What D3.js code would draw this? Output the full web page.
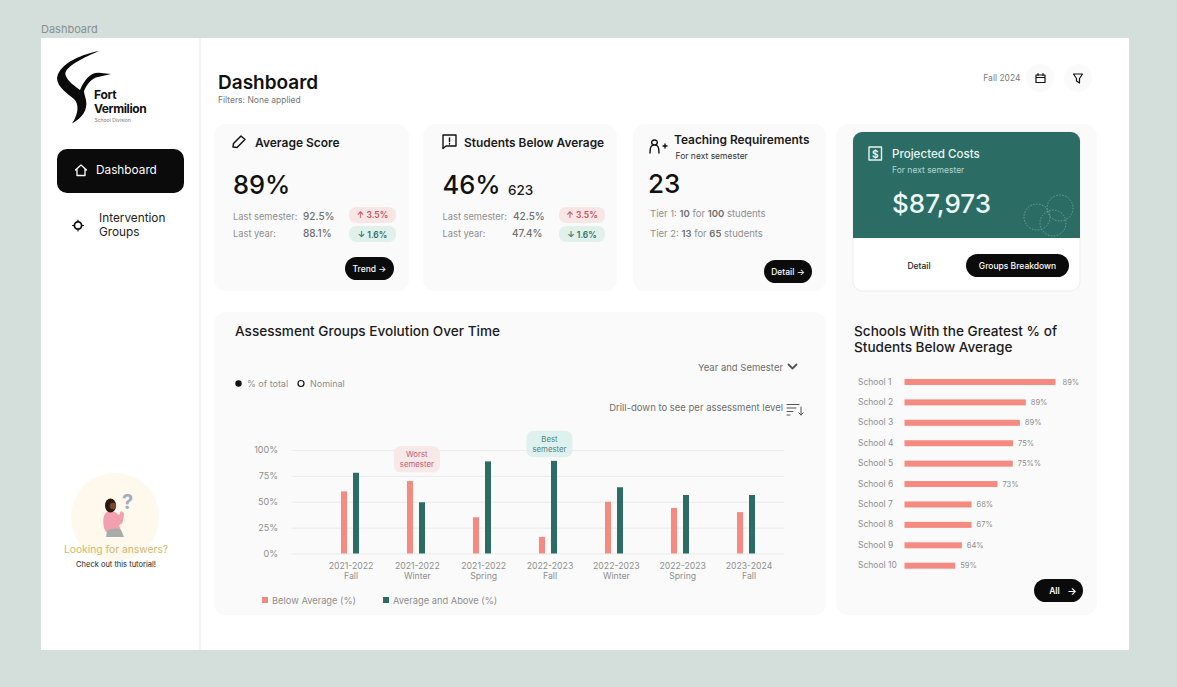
<!DOCTYPE html>
<html lang="en">
<head>
<meta charset="UTF-8">
<title>Dashboard</title>
<script src="https://d3js.org/d3.v7.min.js"></script>
<style>
    html, body { margin: 0; padding: 0; background: #d4dedb; overflow: hidden; }
    svg { display: block; }
    text { font-family: Inter, "Noto Sans", sans-serif; }
</style>
</head>
<body>
<svg id="plot" width="1177" height="687"></svg>
<script>
    // chart data
    const semesterYears = ["2021-2022", "2021-2022", "2021-2022", "2022-2023", "2022-2023", "2022-2023", "2023-2024"];
    const semesterTerms = ["Fall", "Winter", "Spring", "Fall", "Winter", "Spring", "Fall"];
    const belowAverage = [60, 70, 35, 16, 50, 44, 40];
    const averageAndAbove = [78, 49.5, 89, 89.5, 64, 56.5, 56.5];
    const percentTicks = [0, 25, 50, 75, 100];

    const schools = ["School 1", "School 2", "School 3", "School 4", "School 5", "School 6", "School 7", "School 8", "School 9", "School 10"];
    const schoolBars = [89, 71.5, 68, 64, 63.8, 54.8, 39.5, 39.5, 33.8, 29.9];
    const schoolLabels = ["89%", "89%", "89%", "75%", "75%%", "73%", "68%", "67%", "64%", "59%"];

    const INK = "#111111", GREY = "#8f8f8f", MID = "#6f6f6f", PINK = "#f58a80", TEAL = "#2b6d64", CARD = "#fafafa";

    const svg = d3.select("#plot");

    var label = function (x, y, str, size, color, weight, anchor) {
        return svg.append("text")
            .attr("x", x).attr("y", y)
            .attr("font-size", size)
            .attr("fill", color || INK)
            .attr("font-weight", weight || 400)
            .attr("text-anchor", anchor || "start")
            .text(str);
    };

    var box = function (x0, y0, x1, y1, r, fill) {
        return svg.append("rect")
            .attr("x", x0).attr("y", y0)
            .attr("width", x1 - x0).attr("height", y1 - y0)
            .attr("rx", r)
            .attr("fill", fill);
    };

    var icon = function (d, color, width) {
        return svg.append("path")
            .attr("d", d)
            .attr("fill", "none")
            .attr("stroke", color || INK)
            .attr("stroke-width", width || 1.5)
            .attr("stroke-linecap", "round")
            .attr("stroke-linejoin", "round");
    };

    var button = function (x0, y0, x1, y1, str, size) {
        box(x0, y0, x1, y1, (y1 - y0) / 2, "#0b0b0b");
        label((x0 + x1) / 2, (y0 + y1) / 2 + 3, str, size || 8.5, "#ffffff", 500, "middle");
    };

    // page frame
    label(41, 33, "Dashboard", 11, "#87918f");
    box(41, 38, 1129, 650, 0, "#ffffff");
    svg.append("rect").attr("x", 199).attr("y", 38).attr("width", 2).attr("height", 612).attr("fill", "#f2f4f3");

    // sidebar logo
    svg.append("path")
        .attr("d", "M99 51 C84 54 60 62 57 78 C57 87 68 94 74 99 C79 104 79 113 72 123.5 C82 118 88 110 86 100 C85 96 84 93 84 91 C87 84 92 78 98 77 L111 74 L101 73 C92 71 85 78 80 90 C75 86 68 82 65.5 75 C64 68 78 60 99 51 Z")
        .attr("fill", "#0a0a0a");
    label(94, 99, "Fort", 12, INK, 700).attr("letter-spacing", -0.3);
    label(94, 112.5, "Vermilion", 12, INK, 700).attr("letter-spacing", -0.4);
    label(94.5, 121.5, "School Division", 5, "#777777");

    // sidebar nav
    box(57, 149, 184, 193, 10, "#0b0b0b");
    icon("M75.5 170 L81 165 L86.5 170 M77 169 V175.5 H85 V169", "#ffffff", 1.3);
    label(96, 174, "Dashboard", 11.8, "#ffffff");
    svg.append("circle").attr("cx", 78).attr("cy", 225.5).attr("r", 3.6).attr("fill", "none").attr("stroke", INK).attr("stroke-width", 1.8);
    icon("M78 220 V221.5 M78 229.5 V231 M72.5 225.5 H74 M82 225.5 H83.5", INK, 1.2);
    label(99, 222, "Intervention", 11.8, "#222222");
    label(99, 236, "Groups", 11.8, "#222222");

    // sidebar tutorial
    svg.append("circle").attr("cx", 115).attr("cy", 517).attr("r", 44).attr("fill", "#fef9ec");
    svg.append("path").attr("d", "M104 528 C102 518 104 512 110 510.5 C113 510 116 513 119 515 L121 511 L124 513 L123 521 C122 524 120 525 119 525 L121 531 L106 532 Z").attr("fill", "#f29fb0");
    svg.append("path").attr("d", "M107 531 C112 528 118 528 121 530 L124 537 L106 537 Z").attr("fill", "#a8aca9");
    svg.append("ellipse").attr("cx", 110.5).attr("cy", 505.5).attr("rx", 5.5).attr("ry", 7).attr("fill", "#2e1710");
    svg.append("circle").attr("cx", 113).attr("cy", 506).attr("r", 3.2).attr("fill", "#7a4630");
    label(122, 509, "?", 20, "#a4adc0", 700);
    label(116, 553, "Looking for answers?", 10.3, "#d2b672", 400, "middle");
    label(116, 567, "Check out this tutorial!", 7.5, "#222222", 400, "middle");

    // header
    label(218, 89, "Dashboard", 19, INK, 600);
    label(218, 102.5, "Filters: None applied", 8.5, "#777777");
    label(1020.5, 81, "Fall 2024", 8.5, "#7c7c7c", 400, "end");
    svg.append("circle").attr("cx", 1040).attr("cy", 78).attr("r", 14).attr("fill", CARD);
    svg.append("circle").attr("cx", 1078).attr("cy", 78).attr("r", 14).attr("fill", CARD);
    icon("M1036 75 H1045 V82.5 H1036 Z M1036 77.5 H1045 M1038 73.5 V75.5 M1043 73.5 V75.5", INK, 1.2);
    icon("M1073.5 74 H1082.5 L1079.5 78.5 V83 L1076.5 81 V78.5 Z", INK, 1.2);

    // kpi card 1
    box(214, 124, 409, 291, 12, CARD);
    icon("M233 147 L233.5 143.5 L241 136 L245 139.5 L237 147.5 Z", INK, 1.5);
    label(255, 147, "Average Score", 12, "#1a1a1a", 600);
    label(233, 194, "89%", 25.5, INK, 500);
    label(233, 220, "Last semester:", 9.3, GREY);
    label(303, 220, "92.5%", 10, MID, 500);
    label(233, 237, "Last year:", 9.3, GREY);
    label(303, 237, "88.1%", 10, MID, 500);
    box(349, 207, 396, 223, 7, "#f8e6e5");
    label(372.5, 218, "↑ 3.5%", 8.5, "#c4505f", 600, "middle");
    box(349, 226, 396, 242, 7, "#e0f1ec");
    label(372.5, 238, "↓ 1.6%", 8.5, "#2f6f65", 600, "middle");
    button(345, 257, 394, 280, "Trend →");

    // kpi card 2
    box(423, 124, 617, 291, 12, CARD);
    icon("M443 135 H456 V146 H446 L443 148.5 Z M449.5 138 V141.5 M449.5 143.5 V144", INK, 1.4);
    label(464, 147, "Students Below Average", 11.9, "#1a1a1a", 600);
    label(442.5, 194, "46%", 25.5, INK, 500);
    label(508, 194.5, "623", 13.5, "#1a1a1a", 500);
    label(442.5, 220, "Last semester:", 9.3, GREY);
    label(513, 220, "42.5%", 10, MID, 500);
    label(442.5, 237, "Last year:", 9.3, GREY);
    label(512, 237, "47.4%", 10, MID, 500);
    box(559, 207, 605, 223, 7, "#f8e6e5");
    label(582, 218, "↑ 3.5%", 8.5, "#c4505f", 600, "middle");
    box(559, 226, 605, 242, 7, "#e0f1ec");
    label(582, 238, "↓ 1.6%", 8.5, "#2f6f65", 600, "middle");

    // kpi card 3
    box(633, 124, 826, 291, 12, CARD);
    icon("M650 153 C650 147 651 145 654.5 145 C658 145 659 147 659 153 M654.5 145 C651 145 650.5 140 654.5 140 C658.5 140 658 145 654.5 145 M663 146 H667 M665 144 V148", INK, 1.4);
    label(674, 144, "Teaching Requirements", 11.9, "#1a1a1a", 600);
    label(675.5, 159, "For next semester", 8.5, "#333333");
    label(648, 193, "23", 26, INK, 500);
    var tier = function (y, parts) {
        var t = svg.append("text").attr("x", 650).attr("y", y).attr("font-size", 9.5).attr("fill", GREY);
        parts.forEach(function (p) {
            t.append("tspan").attr("font-weight", p[1] ? 600 : 400).attr("fill", p[1] ? MID : GREY).text(p[0]);
        });
    };
    tier(217, [["Tier 1: ", 0], ["10", 1], [" for ", 0], ["100", 1], [" students", 0]]);
    tier(236.5, [["Tier 2: ", 0], ["13", 1], [" for ", 0], ["65", 1], [" students", 0]]);
    button(764, 260, 812, 283, "Detail →");

    // right column panel
    box(836, 124, 1097, 615, 12, CARD);

    // projected costs card
    box(853, 132, 1080, 291, 9, "#ffffff").attr("stroke", "#ececec");
    svg.append("path").attr("d", "M853 238 V141 A9 9 0 0 1 862 132 H1071 A9 9 0 0 1 1080 141 V238 Z").attr("fill", TEAL);
    icon("M869 147 H881.5 V160 H869 Z", "#e6f2ef", 1.4);
    label(875.2, 157.5, "$", 10, "#e6f2ef", 700, "middle");
    label(892, 158, "Projected Costs", 11.6, "#e9f4f1", 500);
    label(892, 173, "For next semester", 8.5, "#b6d2cc");
    label(892, 213, "$87,973", 26, "#eef7f5", 500);
    [[1037, 217], [1060, 208], [1053, 223]].forEach(function (c) {
        svg.append("circle").attr("cx", c[0]).attr("cy", c[1]).attr("r", 13)
            .attr("fill", "none").attr("stroke", "#7fa9a1").attr("stroke-width", 0.8).attr("stroke-dasharray", "1.5 1.5");
    });
    label(919, 269, "Detail", 8.5, "#222222", 500, "middle");
    button(966, 254, 1069, 277, "Groups Breakdown");

    // evolution chart panel
    box(214, 312, 826, 615, 12, CARD);
    label(235, 336, "Assessment Groups Evolution Over Time", 13.6, "#1a1a1a", 500);
    svg.append("circle").attr("cx", 238.5).attr("cy", 383.5).attr("r", 3.2).attr("fill", INK);
    label(247, 387, "% of total", 9, GREY);
    svg.append("circle").attr("cx", 301).attr("cy", 383.5).attr("r", 3).attr("fill", "none").attr("stroke", INK).attr("stroke-width", 1.2);
    label(310, 387, "Nominal", 9, GREY);
    label(783, 371, "Year and Semester", 9.5, MID, 400, "end");
    icon("M788.5 364.5 L792.5 368.5 L796.5 364.5", "#555555", 1.8);
    label(783, 411, "Drill-down to see per assessment level", 9.5, MID, 400, "end");
    icon("M787 404.5 H799 M787 408 H796 M787 411.5 H793 M787 415 H790 M801 407 V415 M798.8 412.8 L801 415 L803.2 412.8", "#555555", 1);

    const xTicks = semesterYears.map(function (y, i) { return y + " " + semesterTerms[i]; });
    const xBars = d3.scalePoint().domain(xTicks).range([350, 746]);
    const xLabels = d3.scalePoint().domain(xTicks).range([350.5, 748.5]);
    const y = d3.scaleLinear().domain([0, 100]).range([553.5, 450]);

    const yAxis = svg.append("g")
        .attr("transform", "translate(292,0)")
        .call(d3.axisLeft(y).tickValues(percentTicks).tickSize(-492).tickPadding(14).tickFormat(function (d) { return d + "%"; }));
    yAxis.select(".domain").remove();
    yAxis.selectAll("line").attr("stroke", "#ebebeb");
    yAxis.selectAll("text").attr("font-size", 9).attr("fill", GREY).attr("font-family", "Inter");

    const xAxis = svg.append("g")
        .attr("transform", "translate(0,553.5)")
        .call(d3.axisBottom(xLabels).tickSize(0).tickPadding(0));
    xAxis.select(".domain").remove();
    xAxis.selectAll("text").each(function (d, i) {
        var t = d3.select(this).text(null).attr("font-size", 8.7).attr("fill", GREY).attr("font-family", "Inter").attr("y", 0).attr("dy", null);
        t.append("tspan").attr("x", 0).attr("y", 15).text(semesterYears[i]);
        t.append("tspan").attr("x", 0).attr("y", 25.5).text(semesterTerms[i]);
    });

    svg.append("g").selectAll("rect").data(belowAverage).join("rect")
        .attr("x", function (d, i) { return xBars(xTicks[i]) - 9; })
        .attr("y", function (d) { return y(d); })
        .attr("width", 6)
        .attr("height", function (d) { return y(0) - y(d); })
        .attr("fill", PINK);

    svg.append("g").selectAll("rect").data(averageAndAbove).join("rect")
        .attr("x", function (d, i) { return xBars(xTicks[i]) + 3; })
        .attr("y", function (d) { return y(d); })
        .attr("width", 6)
        .attr("height", function (d) { return y(0) - y(d); })
        .attr("fill", TEAL);

    // callouts on worst and best semester
    var callout = function (i, value, word, fill, color) {
        var cx = xLabels(xTicks[i]);
        var bottom = y(value) - 3.5 - (i === 3 ? 0 : 5);
        box(cx - 23, bottom - 26.5, cx + 23, bottom, 7, fill);
        label(cx, bottom - 15.5, word, 7.8, color, 400, "middle");
        label(cx, bottom - 5.5, "semester", 7.8, color, 400, "middle");
    };
    callout(1, belowAverage[1], "Worst", "#f6e9e7", "#cb5a70");
    callout(3, averageAndAbove[3], "Best", "#dff1ee", "#4f8780");

    box(262, 597, 268, 603, 0, PINK);
    label(272, 604, "Below Average (%)", 9.3, GREY);
    box(383, 597, 389, 603, 0, TEAL);
    label(393, 604, "Average and Above (%)", 9.3, GREY);

    // schools chart
    label(854, 336, "Schools With the Greatest % of", 13.6, "#1a1a1a", 500);
    label(854, 352, "Students Below Average", 13.6, "#1a1a1a", 500);

    const ySchool = d3.scalePoint().domain(schools).range([382, 565.7]);
    const xSchool = d3.scaleLinear().domain([0, 89]).range([904.5, 1055.5]);

    svg.append("g").selectAll("text").data(schools).join("text")
        .attr("x", 858)
        .attr("y", function (d) { return ySchool(d) + 2.5; })
        .attr("font-size", 8.5).attr("fill", GREY)
        .text(function (d) { return d; });

    svg.append("g").selectAll("rect").data(schoolBars).join("rect")
        .attr("x", xSchool(0))
        .attr("y", function (d, i) { return ySchool(schools[i]) - 3; })
        .attr("width", function (d) { return xSchool(d) - xSchool(0); })
        .attr("height", 6)
        .attr("fill", PINK);

    svg.append("g").selectAll("text").data(schoolLabels).join("text")
        .attr("x", function (d, i) { return xSchool(schoolBars[i]) + (i === 0 ? 7 : 5); })
        .attr("y", function (d, i) { return ySchool(schools[i]) + 2.5; })
        .attr("font-size", 7.5).attr("fill", GREY)
        .text(function (d) { return d; });

    box(1034, 579, 1083, 602, 11.5, "#0b0b0b");
    label(1054.5, 594, "All", 8.5, "#ffffff", 600, "middle");
    label(1072, 594.5, "→", 10, "#ffffff", 600, "middle");
</script>
</body>
</html>
